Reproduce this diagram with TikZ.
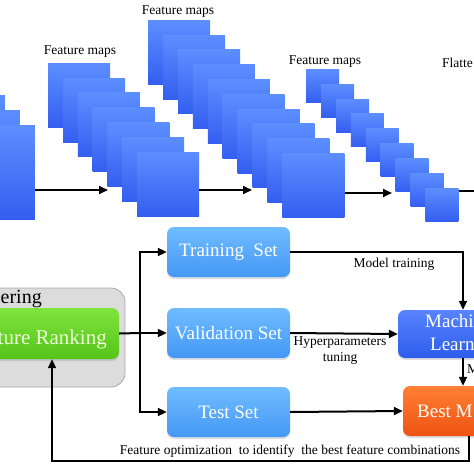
\documentclass[tikz,border=0pt]{standalone}
\usepackage{fontspec}
\setmainfont{Liberation Serif}
\usetikzlibrary{arrows.meta,shadows,calc}
\definecolor{sqtop}{RGB}{92,142,255}
\definecolor{sqbot}{RGB}{52,94,240}
\definecolor{lbtop}{RGB}{112,188,255}
\definecolor{lbbot}{RGB}{68,152,245}
\definecolor{mltop}{RGB}{88,132,255}
\definecolor{mlbot}{RGB}{45,92,235}
\definecolor{ortop}{RGB}{255,128,52}
\definecolor{orbot}{RGB}{238,82,18}
\definecolor{grtop}{RGB}{128,228,62}
\definecolor{grbot}{RGB}{84,196,24}
\definecolor{grayfill}{RGB}{220,220,220}
\definecolor{grayline}{RGB}{168,168,168}
\definecolor{frtext}{RGB}{238,255,218}
\begin{document}
\begin{tikzpicture}[x=1pt,y=-1pt,
  fmap/.style={inner sep=0pt, top color=sqtop, bottom color=sqbot, draw=none},
  bigmap/.style={fmap, minimum width=62pt, minimum height=64pt, anchor=north west},
  smallmap/.style={fmap, minimum size=33pt, anchor=north west},
  box/.style={rounded corners=7pt, inner sep=0pt, minimum height=50pt,
    drop shadow={opacity=0.25, shadow xshift=0pt, shadow yshift=-2pt}},
  setbox/.style={box, top color=lbtop, bottom color=lbbot, minimum width=123pt,
    text=white, font=\fontsize{19}{22}\selectfont},
  boxtext/.style={text=white, font=\fontsize{19}{22}\selectfont, inner sep=0pt},
  arr/.style={line width=2pt, -{Triangle[length=9pt,width=8pt]}},
  ln/.style={line width=2pt},
  lab/.style={font=\fontsize{13.5}{16}\selectfont, inner sep=0pt},
  ]
\useasboundingbox (0,0) rectangle (474,474);
\clip (0,0) rectangle (474,474);

% ---- feature map stacks ----
\foreach \i in {0,1,2}
  \node[fmap, minimum size=94pt, anchor=north east] (sa\i) at ({5+15*\i},{95+15*\i}) {};
\foreach \i in {0,...,6}
  \node[bigmap] (sb\i) at ({48+14.8*\i},{63+14.8*\i}) {};
\foreach \i in {0,...,9}
  \node[bigmap] (sc\i) at ({148+14.9*\i},{20+14.8*\i}) {};
\foreach \i in {0,...,8}
  \node[smallmap] (sd\i) at ({306+14.9*\i},{69+14.9*\i}) {};

\coordinate (t1) at (108,190);
\coordinate (t2) at (252,190);
\coordinate (t3) at (392,193);
\coordinate (t4) at (474,191);
\draw[arr] (sa2.east |- t1) -- (t1);
\draw[arr] (sb6.east |- t2) -- (t2);
\draw[arr] (sc9.east |- t3) -- (t3);
\draw[ln] (sd8.east |- t4) -- (t4);

\node[lab] (fm1) at (80,52) {Feature maps};
\node[lab] (fm2) at (178,12) {Feature maps};
\node[lab] (fm3) at (325,62) {Feature maps};
\node[lab, anchor=west] (fl) at (442,63) {Flatte};

% ---- lower flow ----
\node[fill=grayfill, draw=grayline, line width=0.8pt, rounded corners=14pt,
      minimum width=185pt, minimum height=99pt, inner sep=0pt] (fe) at (32.5,337.5) {};
\node[font=\fontsize{20}{24}\selectfont, inner sep=0pt, anchor=base east] (fet) at (42,303) {eering};

\node[box, top color=grtop, bottom color=grbot, minimum width=164pt, minimum height=51pt] (fr) at (37,333.5) {};
\node[font=\fontsize{21}{24}\selectfont, text=frtext, inner sep=0pt, anchor=base east] (frt) at (107,344) {ature Ranking};

\node[setbox] (tr) at (228.5,252) {Training\ \ Set};
\node[setbox] (va) at (228.5,333) {Validation Set};
\node[setbox] (te) at (228.5,412) {Test Set};

\node[box, top color=mltop, bottom color=mlbot, minimum width=130pt, minimum height=48pt] (ml) at (463,334) {};
\node[boxtext, anchor=base west] (mlt1) at (425,327) {Machi};
\node[boxtext, anchor=base west] (mlt2) at (430,350) {Learn};

\node[box, top color=ortop, bottom color=orbot, minimum width=122pt] (bm) at (464,411) {};
\node[boxtext, anchor=base west] (bmt) at (417,417) {Best M};

\coordinate (split) at (140,333);
\draw[ln] (fr.east) -- (split);
\draw[arr] (split) |- (tr.west);
\draw[arr] (split) -- (va.west);
\draw[arr] (split) |- (te.west);

\draw[arr] (tr.east) -| (ml.north);
\draw[arr] (va.east) -- (ml.west);
\draw[arr] (ml.south) -- (ml.south |- bm.north);
\draw[arr] (te.east) -- (bm.west);
\coordinate (fb) at (52,461);
\draw[arr] ([xshift=5pt]bm.south) |- (fb) -- (fb |- fr.south);

\node[lab] (mt) at (394,264) {Model training};
\node[lab, align=center] (hp) at (340,351) {Hyperparameters\\tuning};
\node[lab, anchor=west] (mm) at (467,369) {M};
\node[lab] (fo) at (290,451) {Feature optimization\ \ to identify\ \ the best feature combinations};
\end{tikzpicture}
\end{document}
